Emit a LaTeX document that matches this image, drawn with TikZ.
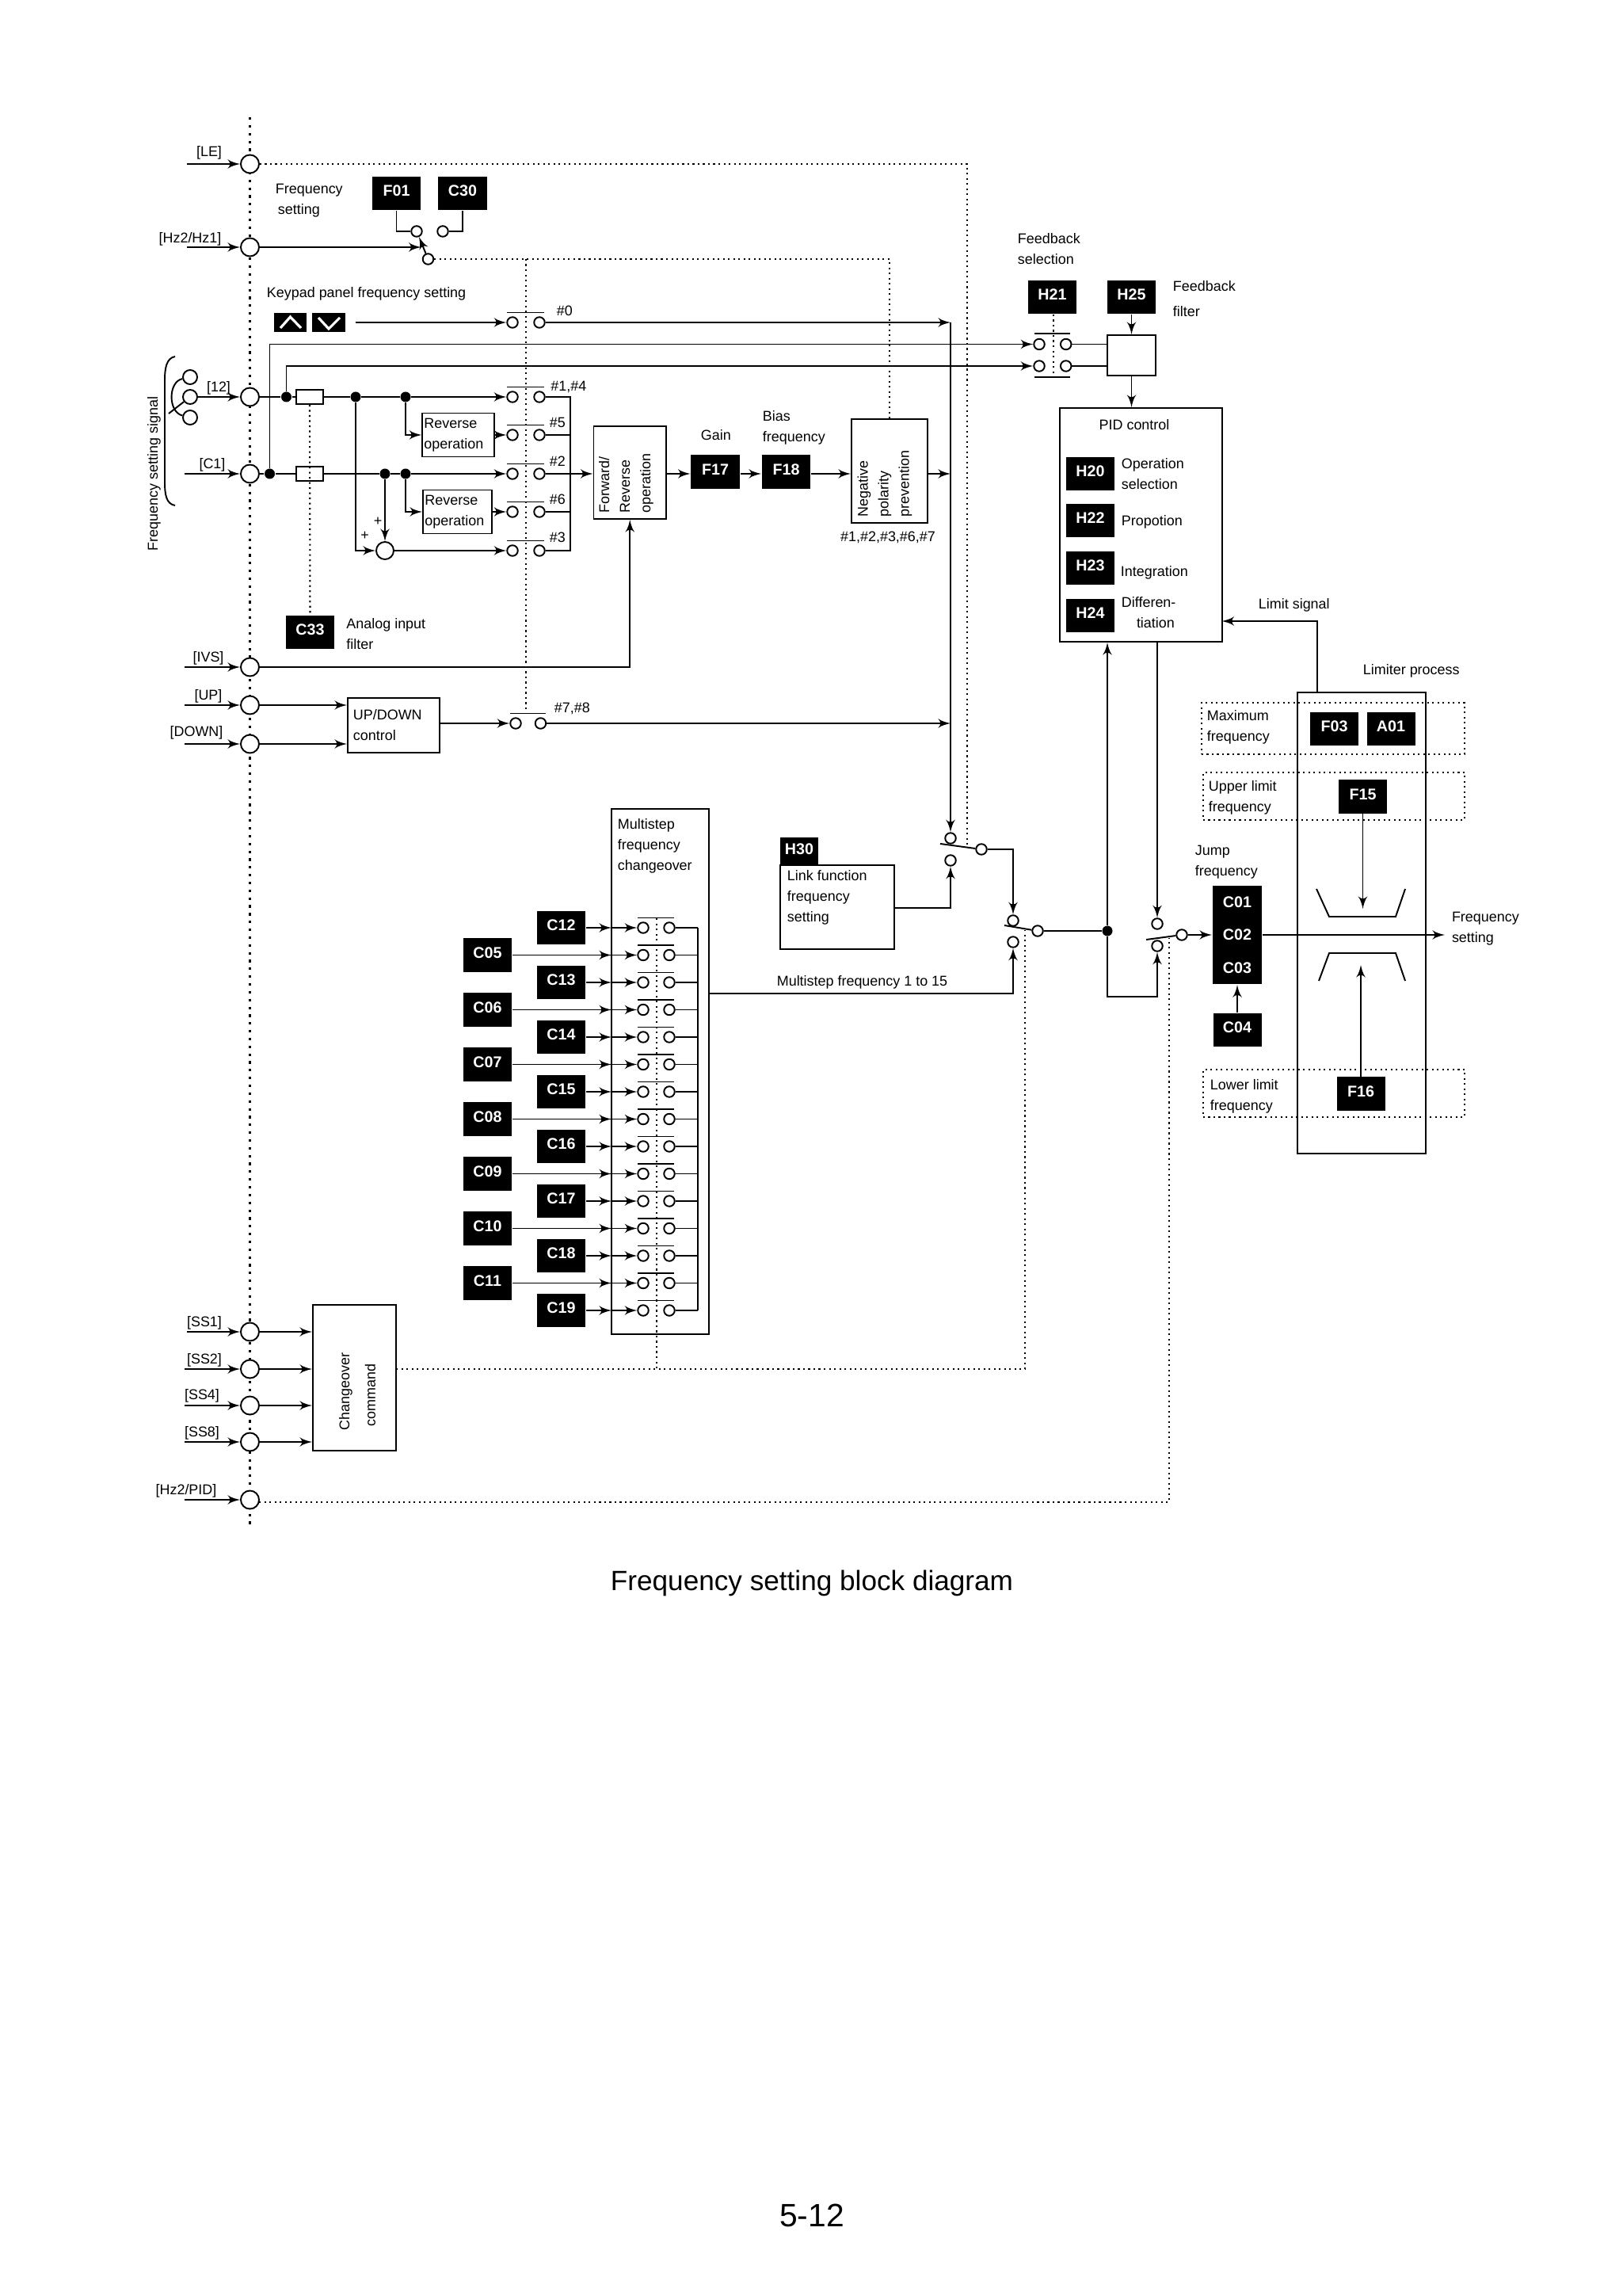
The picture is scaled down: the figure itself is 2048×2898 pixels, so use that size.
\documentclass[tikz,border=0pt]{standalone}
\usepackage{fontspec}
\setmainfont{Liberation Sans}
\usepackage{tikz}
\usetikzlibrary{shapes,arrows,calc}
\tikzstyle{arrow} = [draw, -latex']
\tikzstyle{dots} = [draw, line width=0.6pt, dash pattern=on 0.6pt off 1.25pt]
\tikzstyle{bus} = [draw, line width=0.85pt, dash pattern=on 0.9pt off 1.9pt]
\tikzstyle{term} = [circle, draw=black, fill=white, minimum size=0.23cm, inner sep=0pt]
\tikzstyle{cnt} = [circle, draw=black, fill=white, minimum size=0.135cm, inner sep=0pt]
\tikzstyle{dot} = [circle, fill=black, minimum size=0.13cm, inner sep=0pt]
\tikzstyle{code} = [rectangle, fill=black, text=white, font=\fontsize{5.6}{6}\selectfont\bfseries, minimum width=0.61cm, minimum height=0.42cm, inner sep=0pt, text height=4pt, text depth=1.9pt]
\tikzstyle{box} = [rectangle, draw=black, fill=white, inner sep=0pt]
\tikzstyle{lim} = [rectangle, dots, inner sep=0pt]
\tikzstyle{txt} = [anchor=west, align=left, inner sep=0pt, font=\fontsize{5.1}{7.4}\selectfont]
\tikzstyle{lbl} = [anchor=center, align=center, inner sep=0pt, font=\fontsize{5.1}{7.4}\selectfont]
\tikzstyle{vert} = [anchor=west, rotate=90, align=left, inner sep=0pt, font=\fontsize{5.1}{7.4}\selectfont]

\newcommand{\swpair}[4]{%
    \node (#1a) [cnt] at (#2,#4) {};
    \node (#1b) [cnt] at (#3,#4) {};
    \coordinate (#1l) at (#2-7,#4-12.5);
    \coordinate (#1r) at (#3+6,#4-12.5);
    \draw (#1l) -- (#1r);
}

\begin{document}
\begin{tikzpicture}[x=0.01cm, y=-0.01cm, line width=0.55pt]
    \useasboundingbox (0,0) rectangle (2048,2898);

    % terminals
    \coordinate (busT) at (315.5,148);
    \coordinate (busB) at (315.5,1925);
    \draw[bus] (busT) -- (busB);

    \node (tLE) [term] at (315.5,207) {};
    \node (tHz) [term] at (315.5,312) {};
    \node (t12) [term] at (315.5,501) {};
    \node (tC1) [term] at (315.5,598) {};
    \node (tIVS) [term] at (315.5,842) {};
    \node (tUP) [term] at (315.5,890) {};
    \node (tDN) [term] at (315.5,939) {};
    \node (tSS1) [term] at (315.5,1681) {};
    \node (tSS2) [term] at (315.5,1728) {};
    \node (tSS4) [term] at (315.5,1774) {};
    \node (tSS8) [term] at (315.5,1820) {};
    \node (tPID) [term] at (315.5,1893) {};

    \coordinate (iLE) at (236,207);
    \coordinate (iHz) at (236,312);
    \coordinate (iC1) at (233,598);
    \coordinate (iIVS) at (233,842);
    \coordinate (iUP) at (233,890);
    \coordinate (iDN) at (233,939);
    \coordinate (iSS1) at (236,1681);
    \coordinate (iSS2) at (233,1728);
    \coordinate (iSS4) at (233,1774);
    \coordinate (iSS8) at (233,1820);
    \coordinate (iPID) at (233,1893);

    \draw[arrow] (iLE) -- (tLE);
    \draw[arrow] (iHz) -- (tHz);
    \draw[arrow] (iC1) -- (tC1);
    \draw[arrow] (iIVS) -- (tIVS);
    \draw[arrow] (iUP) -- (tUP);
    \draw[arrow] (iDN) -- (tDN);
    \draw[arrow] (iSS1) -- (tSS1);
    \draw[arrow] (iSS2) -- (tSS2);
    \draw[arrow] (iSS4) -- (tSS4);
    \draw[arrow] (iSS8) -- (tSS8);
    \draw[arrow] (iPID) -- (tPID);

    \node (lLE) [lbl] at (264,193) {[LE]};
    \node (lHz) [lbl] at (240,302) {[Hz2/Hz1]};
    \node (l12) [lbl] at (276,490) {[12]};
    \node (lC1) [lbl] at (268,587) {[C1]};
    \node (lIVS) [lbl] at (263,831) {[IVS]};
    \node (lUP) [lbl] at (263,879) {[UP]};
    \node (lDN) [lbl] at (248,925) {[DOWN]};
    \node (lSS1) [lbl] at (258,1670) {[SS1]};
    \node (lSS2) [lbl] at (258,1717) {[SS2]};
    \node (lSS4) [lbl] at (255,1762) {[SS4]};
    \node (lSS8) [lbl] at (255,1809) {[SS8]};
    \node (lPID) [lbl] at (235,1882) {[Hz2/PID]};

    % analog inputs on the left
    \node (sT) [cnt, minimum size=0.18cm] at (240,476) {};
    \node (sM) [cnt, minimum size=0.18cm] at (240,501) {};
    \node (sB) [cnt, minimum size=0.18cm] at (240,527) {};
    \coordinate (sE) at (213,522);
    \draw[arrow] (sM) -- (t12);
    \draw (sM) -- (sE);
    \draw (sT) .. controls (212,482) and (212,520) .. (sB);
    \draw (221,450) .. controls (210,452) and (208,465) .. (208,480) -- (208,608) .. controls (208,625) and (210,636) .. (221,638);
    \node (lFS) [lbl, rotate=90] at (194.5,598) {Frequency setting signal};

    % frequency setting 1/2
    \node (lFr) [txt] at (347,253) {Frequency\\[0.0pt]\hspace{0.03cm}setting};
    \node (F01) [code] at (500.5,244) {F01};
    \node (C30) [code] at (584,244) {C30};
    \node (swHa) [cnt] at (526,292) {};
    \node (swHb) [cnt] at (559,292) {};
    \node (swHc) [cnt] at (540.5,327) {};
    \coordinate (hzE) at (531.6,312);
    \draw (F01.south) |- (swHa);
    \draw (C30.south) |- (swHb);
    \draw[arrow] (tHz) -- (hzE);
    \draw[arrow] (swHc) -- (swHa);

    % keypad
    \node (lKey) [txt] at (336,371) {Keypad panel frequency setting};
    \node (kUp) [rectangle, fill=black, minimum width=0.41cm, minimum height=0.24cm, inner sep=0pt] at (366.5,407) {};
    \node (kDn) [rectangle, fill=black, minimum width=0.41cm, minimum height=0.24cm, inner sep=0pt] at (415,407) {};
    \draw[white, line width=0.9pt] (354,414) -- (366.5,400) -- (380,414);
    \draw[white, line width=0.9pt] (402,401) -- (415,415) -- (429,401);
    \coordinate (kE) at (448.6,407);

    % switches
    \swpair{sw0}{647}{681}{407}
    \swpair{sw1}{647}{681}{501}
    \swpair{sw5}{647}{681}{549}
    \swpair{sw2}{647}{681}{598}
    \swpair{sw6}{647}{681}{646}
    \swpair{sw3}{647}{681}{695}
    \swpair{sw7}{651}{682.5}{913}
    \draw[arrow] (kE) -- (sw0a);

    \node (l0) [txt] at (702,392) {\#0};
    \node (l1) [txt] at (694.5,488) {\#1,\#4};
    \node (l5) [txt] at (693,533) {\#5};
    \node (l2) [txt] at (693,582) {\#2};
    \node (l6) [txt] at (693,630) {\#6};
    \node (l3) [txt] at (693,678) {\#3};
    \node (l7) [txt] at (699,894) {\#7,\#8};

    % analog path
    \node (f1) [box, minimum width=0.335cm, minimum height=0.18cm] at (391,501) {};
    \node (f2) [box, minimum width=0.335cm, minimum height=0.18cm] at (391,598) {};
    \node (d1) [dot] at (361.5,501) {};
    \node (d2) [dot] at (449,501) {};
    \node (d3) [dot] at (512,501) {};
    \node (d0) [dot] at (340.5,598) {};
    \node (d4) [dot] at (486,598) {};
    \node (d5) [dot] at (512,598) {};
    \node (sum) [term, minimum size=0.22cm] at (486,695) {};
    \node (rev1) [box, minimum width=0.905cm, minimum height=0.55cm, text width=0.86cm, align=left, font=\fontsize{5.1}{7.4}\selectfont] at (578.5,549) {Reverse\\operation};
    \node (rev2) [box, minimum width=0.87cm, minimum height=0.55cm, text width=0.82cm, align=left, font=\fontsize{5.1}{7.4}\selectfont] at (577.5,646) {Reverse\\operation};
    \node (pA) [lbl] at (477,658) {+};
    \node (pB) [lbl] at (460.6,676) {+};

    \draw (t12) -- (d1);
    \draw (d1) -- (f1);
    \draw (f1) -- (d2);
    \draw (d2) -- (d3);
    \draw[arrow] (d3) -- (sw1a);
    \draw[arrow] (d3) |- (rev1.west);
    \draw[arrow] (rev1) -- (sw5a);
    \draw (tC1) -- (d0);
    \draw (d0) -- (f2);
    \draw (f2) -- (d4);
    \draw (d4) -- (d5);
    \draw[arrow] (d5) -- (sw2a);
    \draw[arrow] (d5) |- (rev2.west);
    \draw[arrow] (rev2) -- (sw6a);
    \draw[arrow] (d4) -- (sum);
    \draw[arrow] (d2) |- (sum);
    \draw[arrow] (sum) -- (sw3a);

    \node (C33) [code] at (391.5,798) {C33};
    \node (lC33) [txt] at (436.5,800) {Analog input\\filter};
    \draw[dots] (f1) -- (C33);

    % forward path
    \coordinate (col1) at (720,501);
    \coordinate (col3) at (720,695);
    \draw (sw1b) -- (col1) -- (col3) -- (sw3b);
    \draw (sw5b) -- (sw5b -| col1);
    \draw (sw6b) -- (sw6b -| col1);

    \node (fwd) [box, minimum width=0.915cm, minimum height=1.17cm] at (795.25,596.5) {};
    \node (lFwd) [vert] at (790.5,648) {Forward/\\Reverse\\operation};
    \node (F17) [code] at (903,595.5) {F17};
    \node (F18) [code] at (992.5,595.5) {F18};
    \node (lGain) [txt] at (884,549) {Gain};
    \node (lBias) [txt] at (962,540) {Bias\\frequency};
    \node (neg) [box, minimum width=0.96cm, minimum height=1.31cm] at (1123,594.5) {};
    \node (lNeg) [vert] at (1117,653) {Negative\\polarity\\prevention};
    \node (lNn) [lbl] at (1121,678) {\#1,\#2,\#3,\#6,\#7};

    \coordinate (bus0) at (1200,407);
    \coordinate (bus2) at (1200,598);
    \coordinate (bus7) at (1200,913);

    \draw[arrow] (sw2b) -- (fwd.west |- sw2b);
    \draw[arrow] (fwd.east |- sw2b) -- (F17.west |- sw2b);
    \draw[arrow] (F17.east |- sw2b) -- (F18.west |- sw2b);
    \draw[arrow] (F18.east |- sw2b) -- (neg.west |- sw2b);
    \draw[arrow] (neg.east |- sw2b) -- (bus2);
    \draw[arrow] (sw0b) -- (bus0);
    \draw[arrow] (tIVS) -| (fwd.south);

    % up/down control
    \node (ud) [box, minimum width=1.16cm, minimum height=0.69cm, text width=1.02cm, align=left, font=\fontsize{5.1}{7.4}\selectfont] at (497,915.5) {UP/DOWN\\control};
    \draw[arrow] (tUP) -- (ud.west |- tUP);
    \draw[arrow] (tDN) -- (ud.west |- tDN);
    \draw[arrow] (ud.east |- sw7a) -- (sw7a);
    \draw[arrow] (sw7b) -- (bus7);

    % feedback
    \node (lFbs) [txt] at (1284,314) {Feedback\\selection};
    \node (H21) [code] at (1328.5,375) {H21};
    \node (H25) [code] at (1428.5,375) {H25};
    \node (lFbf) [txt, font=\fontsize{5.1}{9}\selectfont] at (1480,377) {Feedback\\filter};
    \node (fb) [box, minimum width=0.61cm, minimum height=0.51cm] at (1428.5,448.5) {};
    \node (swFa) [cnt] at (1312,434.5) {};
    \node (swFb) [cnt] at (1345.7,434.5) {};
    \node (swGa) [cnt] at (1312,462) {};
    \node (swGb) [cnt] at (1345.7,462) {};
    \coordinate (bFl) at (1306,421);
    \coordinate (bFr) at (1350.6,421);
    \coordinate (bGl) at (1306,476);
    \coordinate (bGr) at (1350.6,476);
    \coordinate (bGm) at (1330,476);
    \draw (bFl) -- (bFr);
    \draw (bGl) -- (bGr);
    \draw[dots] (H21.south -| bGm) -- (bGm);
    \draw[arrow] (d0) |- (swFa);
    \draw[arrow] (d1) |- (swGa);
    \draw (swFb) -- (fb.west |- swFb);
    \draw (swGb) -- (fb.west |- swGb);
    \draw[arrow] (H25) -- (fb);

    % PID
    \node (PID) [box, minimum width=2.045cm, minimum height=2.95cm] at (1440.25,662.5) {};
    \node (lPID2) [lbl] at (1432,536) {PID control};
    \node (H20) [code] at (1376.5,598) {H20};
    \node (H22) [code] at (1376.5,657) {H22};
    \node (H23) [code] at (1376.5,717) {H23};
    \node (H24) [code] at (1376.5,777) {H24};
    \node (lH20) [txt] at (1415,598) {Operation\\selection};
    \node (lH22) [txt] at (1415,658.6) {Propotion};
    \node (lH23) [txt] at (1414,723) {Integration};
    \node (lH24) [txt] at (1415,773) {Differen-\\\hspace{0.19cm}tiation};
    \draw[arrow] (fb.south) -- (fb.south |- PID.north);

    % limiter
    \node (lmA) [lim, minimum width=3.32cm, minimum height=0.65cm] at (1683,919.5) {};
    \node (lmB) [lim, minimum width=3.30cm, minimum height=0.60cm] at (1684,1005) {};
    \node (lmC) [lim, minimum width=3.30cm, minimum height=0.60cm] at (1684,1380) {};
    \node (lim) [rectangle, draw=black, minimum width=1.62cm, minimum height=5.82cm, inner sep=0pt] at (1719,1165) {};
    \node (lLim) [txt] at (1720,846.5) {Limiter process};
    \node (lMax) [txt] at (1523,918) {Maximum\\frequency};
    \node (lUp) [txt] at (1525,1006.5) {Upper limit\\frequency};
    \node (lLo) [txt] at (1527,1383.5) {Lower limit\\frequency};
    \node (F03) [code] at (1684.5,920) {F03};
    \node (A01) [code] at (1756,920) {A01};
    \node (F15) [code] at (1720.5,1005.5) {F15};
    \node (F16) [code] at (1718,1380.5) {F16};
    \coordinate (fU) at (1720.5,1147);
    \coordinate (fL) at (1718,1218);
    \draw[arrow] (F15.south) -- (fU);
    \draw[arrow] (F16.north) -- (fL);
    \draw (1662,1122) -- (1678,1157) -- (1762,1157) -- (1774,1122);
    \draw (1665,1238) -- (1678,1203) -- (1762,1203) -- (1774,1238);
    \node (lLs) [txt] at (1588,764) {Limit signal};
    \coordinate (limT) at (1663,874);
    \coordinate (limE) at (1542.5,784);
    \draw[arrow] (limT) |- (limE);

    % link function and output switches
    \node (H30) [code, minimum width=0.48cm, minimum height=0.35cm] at (1009,1074.5) {H30};
    \node (link) [box, minimum width=1.44cm, minimum height=1.06cm] at (1057,1145) {};
    \node (lLink) [txt] at (993,1133) {Link function\\frequency\\setting};
    \node (swAa) [cnt] at (1200,1058) {};
    \node (swAb) [cnt] at (1200,1086) {};
    \node (swAr) [cnt] at (1239,1072) {};
    \node (swBa) [cnt] at (1279,1162) {};
    \node (swBb) [cnt] at (1279,1189) {};
    \node (swBr) [cnt] at (1310,1175) {};
    \node (swCa) [cnt] at (1461,1166) {};
    \node (swCb) [cnt] at (1461,1194) {};
    \node (swCr) [cnt] at (1492,1180) {};
    \coordinate (levA) at (1187,1065);
    \coordinate (levB) at (1268,1168);
    \coordinate (levC) at (1447,1186);
    \draw (levA) -- (swAr);
    \draw (levB) -- (swBr);
    \draw (levC) -- (swCr);
    \draw[arrow] (bus0) -- (swAa);
    \coordinate (lkE) at (1129,1146);
    \draw[arrow] (lkE) -| (swAb);
    \draw[arrow] (swAr) -| (swBa);

    \node (dm) [dot] at (1398,1175) {};
    \coordinate (lp) at (1461,1258);
    \draw (swBr) -- (dm);
    \draw[arrow] (dm) -- (dm |- PID.south);
    \draw[arrow] (dm) |- (lp) -- (swCb);
    \draw[arrow] (PID.south -| swCa) -- (swCa);

    % jump frequency
    \node (lJump) [txt] at (1508,1088) {Jump\\frequency};
    \node (jump) [rectangle, fill=black, text=white, align=center, inner sep=0pt, minimum width=0.62cm, minimum height=1.244cm, font=\fontsize{5.6}{11.8}\selectfont\bfseries] at (1562,1180) {C01\\C02\\C03};
    \node (C04) [code] at (1562,1300) {C04};
    \node (lOut) [txt] at (1832,1172.5) {Frequency\\setting};
    \coordinate (outF) at (1824,1180);
    \draw[arrow] (swCr) -- (jump.west |- swCr);
    \draw[arrow] (jump.east |- swCr) -- (outF);
    \draw[arrow] (C04) -- (jump);

    % multistep
    \node (mbox) [box, minimum width=1.23cm, minimum height=6.63cm] at (833.5,1352.5) {};
    \node (lMs) [txt] at (779,1068) {Multistep\\frequency\\changeover};
    \foreach \n/\cd/\xb in {0/C12/708.5,1/C05/615.5,2/C13/708.5,3/C06/615.5,4/C14/708.5,5/C07/615.5,6/C15/708.5,7/C08/615.5,8/C16/708.5,9/C09/615.5,10/C17/708.5,11/C10/615.5,12/C18/708.5,13/C11/615.5,14/C19/708.5} {
        \pgfmathsetmacro{\ry}{1171+34.5*\n}
        \node (\cd) [code] at (\xb,\ry) {\cd};
        \swpair{ms\n}{812}{845}{\ry}
        \coordinate (mid\n) at (772,\ry);
        \coordinate (col\n) at (881,\ry);
        \draw[arrow] (\cd) -- (mid\n);
        \draw[arrow] (mid\n) -- (ms\n a);
        \draw (ms\n b) -- (col\n);
    }
    \draw (col0) -- (col14);
    \node (lMsf) [lbl] at (1088.5,1240) {Multistep frequency 1 to 15};
    \coordinate (msOut) at (895,1254);
    \draw[arrow] (msOut) -| (swBb);

    % changeover
    \node (chg) [box, minimum width=1.05cm, minimum height=1.84cm] at (447.5,1739) {};
    \node (lChg) [vert, font=\fontsize{5.1}{9.3}\selectfont] at (451,1806) {Changeover\\\hspace{0.05cm}command};
    \draw[arrow] (tSS1) -- (chg.west |- tSS1);
    \draw[arrow] (tSS2) -- (chg.west |- tSS2);
    \draw[arrow] (tSS4) -- (chg.west |- tSS4);
    \draw[arrow] (tSS8) -- (chg.west |- tSS8);

    % dotted control lines
    \coordinate (hk) at (664,327);
    \coordinate (hk2) at (664,900);
    \coordinate (levA2) at (1221,1069);
    \coordinate (levB2) at (1294,1173.5);
    \coordinate (levC2) at (1476,1184);
    \coordinate (chgE) at (500,1728);
    \coordinate (hzP) at (327,1896);
    \coordinate (msT) at (828.7,1159);
    \coordinate (msB) at (828.7,1728);
    \draw[dots] (tLE) -| (levA2);
    \draw[dots] (swHc) -| (neg.north);
    \draw[dots] (hk) -- (hk2);
    \draw[dots] (chgE) -| (levB2);
    \draw[dots] (hzP) -| (levC2);
    \draw[dots] (msT) -- (msB);

    % page texts
    \node (cap) [anchor=center, inner sep=0pt, font=\fontsize{10}{12}\selectfont] at (1025,1998) {Frequency setting block diagram};
    \node (page) [anchor=center, inner sep=0pt, font=\fontsize{11.6}{14}\selectfont] at (1025,2796) {5-12};
\end{tikzpicture}
\end{document}
